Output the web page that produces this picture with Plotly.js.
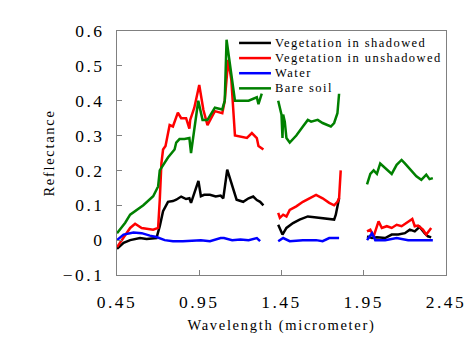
<!DOCTYPE html>
<html>
<head>
<meta charset="utf-8">
<script src="https://cdn.plot.ly/plotly-3.0.1.min.js"></script>
<style>
html,body{margin:0;padding:0;background:#fff;}
#chart{width:474px;height:353px;}
.xtick text, .ytick text {letter-spacing: 2.5px;}
.xtitle, .ytitle {letter-spacing: 1.7px;}
.annotation-text {letter-spacing: 1.45px;}
</style>
</head>
<body>
<div id="chart"></div>
<script>
// Series names
const seriesNames = ["Vegetation in shadowed", "Vegetation in unshadowed", "Water", "Bare soil"];

// Vegetation in shadowed (three spectral segments separated by null)
const shadowedX = [0.45,0.49,0.53,0.59,0.63,0.69,0.71,0.73,0.76,0.79,0.81,0.84,0.87,0.89,0.90,0.94,0.945,0.96,0.98,1.015,1.05,1.08,1.096,1.12,1.147,1.177,1.217,1.25,1.278,1.30,1.32,1.34,
  null,1.43,1.44,1.456,1.48,1.52,1.56,1.61,1.65,1.68,1.72,1.74,1.77,1.78,1.80,
  null,1.97,2.0,2.03,2.08,2.12,2.16,2.20,2.23,2.26,2.29,2.32,2.34,2.36];
const shadowedY = [-0.025,-0.008,0.0,0.006,0.003,0.006,0.04,0.083,0.11,0.112,0.116,0.125,0.118,0.12,0.107,0.164,0.17,0.126,0.13,0.13,0.125,0.128,0.12,0.202,0.164,0.116,0.11,0.12,0.125,0.115,0.11,0.10,
  null,0.044,0.035,0.016,0.035,0.049,0.059,0.068,0.066,0.064,0.062,0.059,0.059,0.073,0.12,
  null,0.011,0.006,0.008,0.006,0.016,0.016,0.02,0.03,0.025,0.038,0.02,0.011,0.008];

// Vegetation in unshadowed
const unshadowedX = [0.45,0.49,0.53,0.56,0.60,0.67,0.70,0.71,0.72,0.73,0.745,0.77,0.79,0.82,0.84,0.87,0.89,0.895,0.92,0.95,0.975,1.0,1.045,1.09,1.105,1.126,1.145,1.167,1.20,1.24,1.27,1.30,1.31,1.34,
  null,1.43,1.44,1.46,1.48,1.50,1.54,1.58,1.62,1.66,1.70,1.74,1.77,1.79,1.80,1.81,
  null,1.97,1.99,2.01,2.04,2.06,2.09,2.12,2.15,2.18,2.21,2.245,2.26,2.28,2.31,2.33,2.36];
const unshadowedY = [-0.02,0.006,0.035,0.047,0.035,0.03,0.035,0.116,0.22,0.26,0.27,0.33,0.326,0.366,0.35,0.35,0.32,0.345,0.38,0.445,0.374,0.33,0.37,0.364,0.40,0.517,0.46,0.30,0.297,0.293,0.307,0.293,0.27,0.26,
  null,0.078,0.064,0.073,0.068,0.087,0.097,0.11,0.12,0.13,0.12,0.107,0.10,0.11,0.12,0.20,
  null,0.025,0.03,0.011,0.054,0.035,0.04,0.035,0.044,0.04,0.049,0.061,0.04,0.042,0.03,0.016,0.035];

// Water
const waterX = [0.45,0.49,0.55,0.60,0.65,0.69,0.74,0.79,0.85,0.90,0.96,1.015,1.05,1.08,1.10,1.15,1.20,1.25,1.30,1.32,
  null,1.43,1.46,1.50,1.58,1.66,1.70,1.74,1.80,
  null,1.97,2.0,2.02,2.08,2.15,2.22,2.30,2.37];
const waterY = [0.0,0.016,0.022,0.02,0.013,0.009,0.0,-0.003,-0.003,-0.002,0.0,-0.003,0.002,0.006,0.006,0.0,0.002,0.0,0.006,-0.003,
  null,-0.003,0.006,-0.003,0.0,0.0,-0.003,0.006,0.006,
  null,0.0,0.02,0.0,0.0,0.006,0.0,0.0,0.0];

// Bare soil
const soilX = [0.45,0.50,0.53,0.61,0.67,0.70,0.71,0.76,0.80,0.81,0.83,0.86,0.89,0.90,0.944,0.97,1.0,1.045,1.09,1.105,1.116,1.135,1.167,1.20,1.25,1.30,1.31,1.33,
  null,1.43,1.45,1.456,1.46,1.47,1.48,1.50,1.54,1.58,1.61,1.63,1.67,1.70,1.75,1.77,1.79,1.80,
  null,1.97,1.99,2.01,2.03,2.05,2.08,2.12,2.15,2.18,2.20,2.24,2.27,2.30,2.33,2.35,2.37];
const soilY = [0.02,0.05,0.073,0.10,0.126,0.154,0.20,0.237,0.26,0.28,0.29,0.29,0.293,0.25,0.40,0.345,0.345,0.38,0.375,0.40,0.575,0.51,0.40,0.40,0.40,0.41,0.39,0.42,
  null,0.40,0.36,0.293,0.36,0.34,0.293,0.28,0.30,0.326,0.345,0.34,0.345,0.336,0.326,0.336,0.364,0.42,
  null,0.16,0.19,0.20,0.19,0.22,0.207,0.19,0.216,0.23,0.22,0.20,0.183,0.173,0.188,0.175,0.178];

const colors = ["#000000", "#ff0000", "#0000ff", "#008000"];
const xs = [shadowedX, unshadowedX, waterX, soilX];
const ys = [shadowedY, unshadowedY, waterY, soilY];

const FONT = "Liberation Serif, Times New Roman, serif";

const traces = seriesNames.map((name, i) => ({
  type: "scatter", mode: "lines", name: name,
  x: xs[i], y: ys[i], connectgaps: false,
  line: {color: colors[i], width: 2.5}
}));

// Legend drawn as paper-anchored key lines + labels (compact row spacing like the original)
const legX0 = 0.371, legX1 = 0.468, legTextX = 0.474, legY0 = 0.951, legStep = 0.062;
const shapes = seriesNames.map((n, i) => ({
  type: "line", xref: "paper", yref: "paper",
  x0: legX0, x1: legX1, y0: legY0 - i * legStep, y1: legY0 - i * legStep,
  line: {color: colors[i], width: 2.5}
}));
const annotations = seriesNames.map((n, i) => ({
  text: n, xref: "paper", yref: "paper", x: legTextX, y: legY0 - i * legStep,
  xanchor: "left", yanchor: "middle", showarrow: false,
  font: {family: FONT, size: 12.5, color: "#000"}
}));

const layout = {
  width: 474, height: 353,
  margin: {l: 117, r: 28, t: 31, b: 78},
  paper_bgcolor: "#fff", plot_bgcolor: "#fff",
  showlegend: false,
  shapes: shapes,
  annotations: annotations,
  xaxis: {
    range: [0.45, 2.45], tick0: 0.45, dtick: 0.5, tickformat: ".2f",
    showgrid: false, zeroline: false,
    showline: true, mirror: true, linecolor: "#808080", linewidth: 1,
    ticks: "inside", ticklen: 5, tickcolor: "#808080",
    tickfont: {family: FONT, size: 17.5, color: "#000"},
    ticklabelstandoff: 11,
    title: {text: "Wavelength (micrometer)", font: {family: FONT, size: 14.5, color: "#000"}, standoff: 8}
  },
  yaxis: {
    range: [-0.1, 0.6], dtick: 0.1,
    showgrid: false, zeroline: false,
    showline: true, mirror: true, linecolor: "#808080", linewidth: 1,
    ticks: "inside", ticklen: 5, tickcolor: "#808080",
    tickfont: {family: FONT, size: 17.5, color: "#000"},
    ticklabelstandoff: 8,
    title: {text: "Reflectance", font: {family: FONT, size: 14.5, color: "#000"}, standoff: 4}
  }
};

Plotly.newPlot("chart", traces, layout, {displayModeBar: false, staticPlot: true});
</script>
</body>
</html>
